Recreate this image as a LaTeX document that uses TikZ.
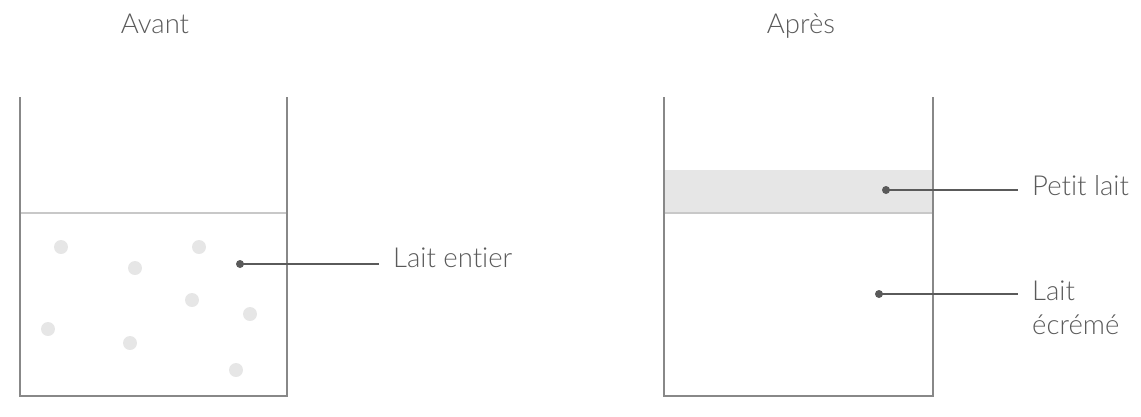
\documentclass[tikz,border=0pt]{standalone}
\usepackage{fontspec}
\setmainfont{Lato}[UprightFont=* Light, Ligatures=NoCommon]
\usetikzlibrary{positioning}
\definecolor{cwall}{HTML}{888888}
\definecolor{cink}{HTML}{5A5A5A}
\definecolor{cmilk}{HTML}{E6E6E6}
\definecolor{csurf}{HTML}{C8C8C8}
\tikzset{
  wall/.style={draw=cwall, line width=2pt},
  surf/.style={draw=csurf, line width=1.5pt},
  fat/.style={fill=cmilk},
  pin/.style={circle, fill=cink, inner sep=0pt, minimum size=8pt},
  lead/.style={draw=cink, line width=2pt},
  lbl/.style={text=cink, font=\fontsize{27.5}{34}\selectfont, inner sep=0pt}
}
\begin{document}
\begin{tikzpicture}[x=1pt,y=-1pt]
      \useasboundingbox (0,0) rectangle (1141,416);
      % titles
      \node[lbl, anchor=base] (avant) at (155,33) {Avant};
      \node[lbl, anchor=base] (apres) at (801,33) {Après};
      % left beaker with fat drops
      \draw[surf] (20,213) -- (287,213);
      \foreach \x/\y in {61/247, 199/247, 135/268, 192/300, 250/314, 48/329, 130/343, 236/370}
        \fill[fat] (\x,\y) circle (7);
      \draw[wall] (20,97) -- (20,396) -- (287,396) -- (287,97);
      % right beaker with cream layer
      \fill[cmilk] (664,170) rectangle (933,213);
      \draw[surf] (664,213) -- (933,213);
      \draw[wall] (664,97) -- (664,396) -- (933,396) -- (933,97);
      % labels
      \node[pin] (p1) at (240,264) {};
      \node[lbl, anchor=base west] (t1) at (393,267) {Lait entier};
      \node[pin] (p2) at (886,190) {};
      \node[lbl, anchor=base west] (t2) at (1032,195) {Petit lait};
      \node[pin] (p3) at (879,294) {};
      \node[lbl, anchor=west, align=left] (t3) at (1032,308) {Lait\\écrémé};
      % leader lines
      \draw[lead] (p1.center) -- ([xshift=-14pt]p1.center -| t1.west);
      \draw[lead] (p2.center) -- ([xshift=-14pt]p2.center -| t2.west);
      \draw[lead] (p3.center) -- ([xshift=-14pt]p3.center -| t3.west);
    \end{tikzpicture}
\end{document}
